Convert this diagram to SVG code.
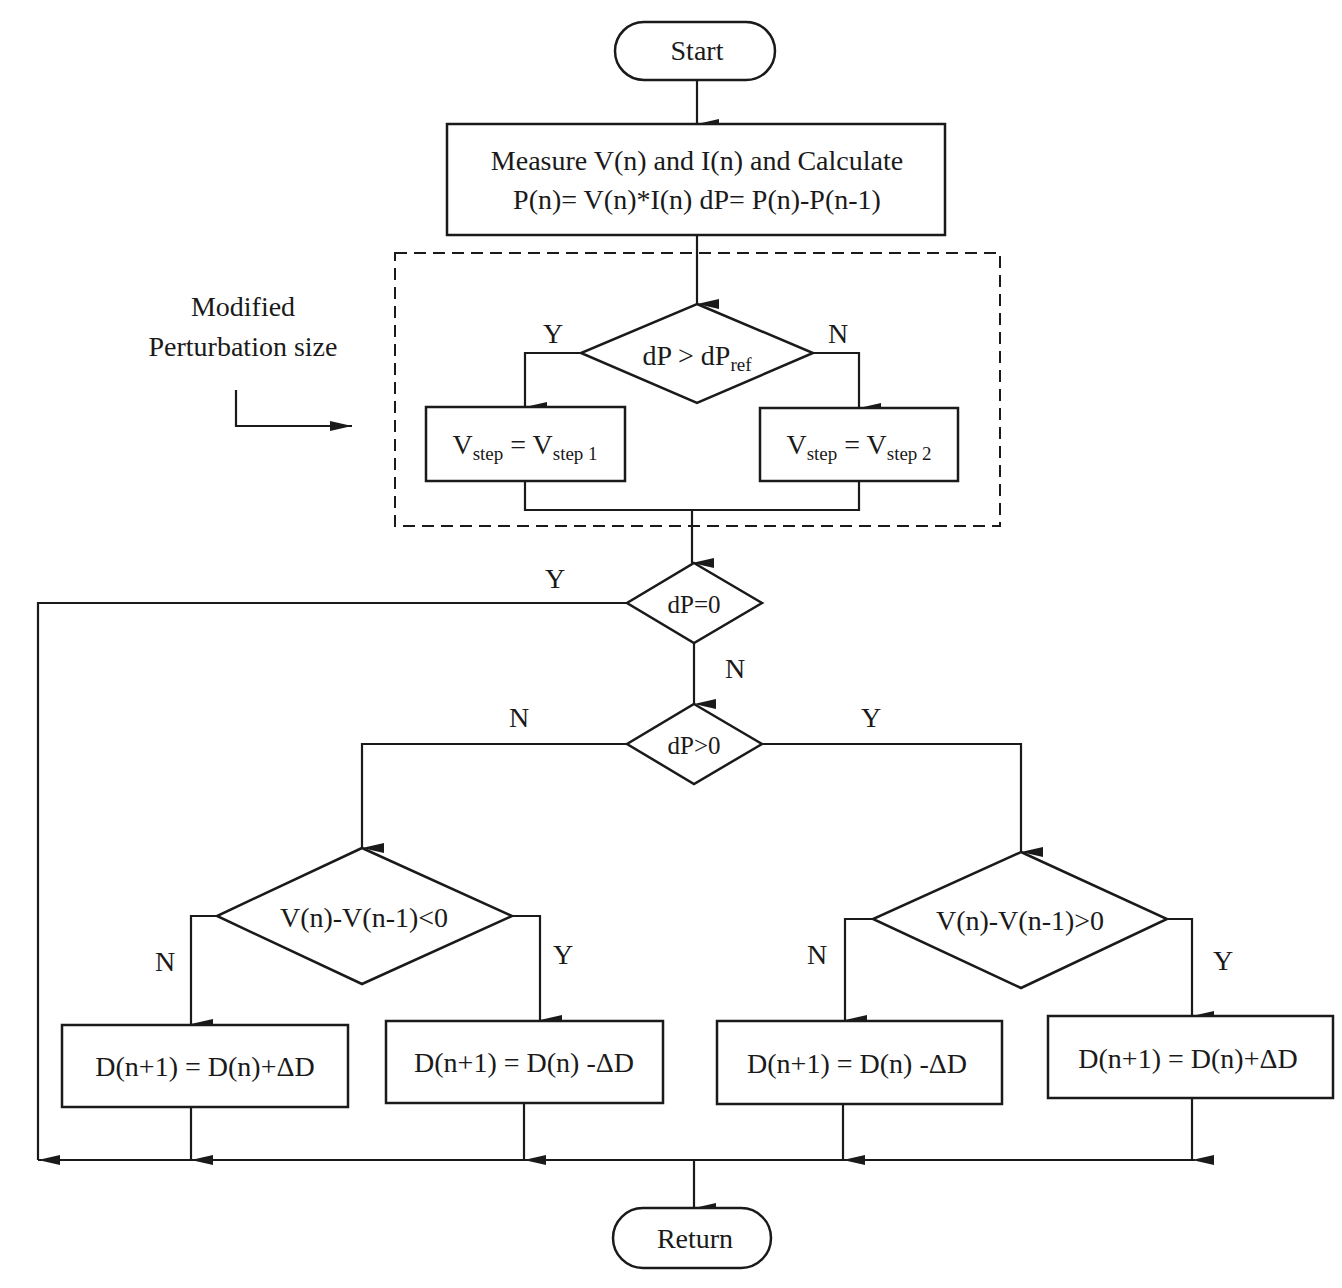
<svg xmlns="http://www.w3.org/2000/svg" width="1342" height="1288" viewBox="0 0 1342 1288">
<style>
.s{fill:#fff;stroke:#1a1a1a;stroke-width:2.5}
.c{fill:none;stroke:#1a1a1a;stroke-width:2.2}
text{font-family:"Liberation Serif","Times New Roman",serif;font-size:28px;fill:#1a1a1a;text-anchor:middle}
.sub{font-size:19px}
</style>
<defs>
<marker id="a" markerWidth="10" markerHeight="22" refX="5" refY="22" orient="auto-start-reverse" markerUnits="userSpaceOnUse" viewBox="0 0 10 22"><path d="M0,0 L10,0 L5,22 Z" fill="#1a1a1a" transform="rotate(0)"/></marker>
<marker id="h" markerWidth="22" markerHeight="10" refX="22" refY="5" orient="0" markerUnits="userSpaceOnUse" viewBox="0 0 22 10"><path d="M0,0 L22,5 L0,10 Z" fill="#1a1a1a"/></marker>
</defs>
<g id="connectors">
<path class="c" d="M697,80V124" marker-end="url(#a)"/>
<path class="c" d="M697,235V304" marker-end="url(#a)"/>
<path class="c" d="M581,353H525V407" marker-end="url(#a)"/>
<path class="c" d="M813,353H859V408" marker-end="url(#a)"/>
<path class="c" d="M525,481V510H859V481"/>
<path class="c" d="M692,510V563" marker-end="url(#a)"/>
<path class="c" d="M627,603H38V1160" marker-end="url(#a)"/>
<path class="c" d="M694,643V704" marker-end="url(#a)"/>
<path class="c" d="M627,744H362V848" marker-end="url(#a)"/>
<path class="c" d="M762,744H1021V852" marker-end="url(#a)"/>
<path class="c" d="M217,916H191V1024" marker-end="url(#a)"/>
<path class="c" d="M512,916H540V1020" marker-end="url(#a)"/>
<path class="c" d="M873,919H845V1020" marker-end="url(#a)"/>
<path class="c" d="M1167,919H1192V1016" marker-end="url(#a)"/>
<path class="c" d="M191,1107V1160" marker-end="url(#a)"/>
<path class="c" d="M524,1103V1160" marker-end="url(#a)"/>
<path class="c" d="M843,1104V1160" marker-end="url(#a)"/>
<path class="c" d="M1192,1098V1160" marker-end="url(#a)"/>
<path class="c" d="M38,1160H1195"/>
<path class="c" d="M694,1160V1208" marker-end="url(#a)"/>
<path class="c" d="M236,390V426H352" marker-end="url(#h)"/>
<text x="553" y="343">Y</text><text x="838" y="343">N</text>
<text x="555" y="588">Y</text><text x="735" y="678">N</text>
<text x="519" y="727">N</text><text x="871" y="727">Y</text>
<text x="165" y="971">N</text><text x="563" y="964">Y</text>
<text x="817" y="964">N</text><text x="1223" y="970">Y</text>
</g>
<rect id="dashed" x="395" y="253" width="605" height="273" fill="none" stroke="#1a1a1a" stroke-width="2" stroke-dasharray="12,7"/>
<g id="label"><text x="243" y="316">Modified</text><text x="243" y="356">Perturbation size</text></g>
<g id="start"><rect class="s" x="615" y="22" width="160" height="58" rx="29"/><text x="697" y="60">Start</text></g>
<g id="measure"><rect class="s" x="447" y="124" width="498" height="111"/><text x="697" y="170">Measure V(n) and I(n) and Calculate</text><text x="697" y="209">P(n)= V(n)*I(n) dP= P(n)-P(n-1)</text></g>
<g id="d1"><path class="s" d="M697,304L813,353L697,403L581,353Z"/><text x="697" y="365">dP &gt; dP<tspan class="sub" dy="6">ref</tspan></text></g>
<g id="v1"><rect class="s" x="426" y="407" width="199" height="74"/><text x="525" y="454">V<tspan class="sub" dy="6">step</tspan><tspan dy="-6"> = V</tspan><tspan class="sub" dy="6">step 1</tspan></text></g>
<g id="v2"><rect class="s" x="760" y="408" width="198" height="73"/><text x="859" y="454">V<tspan class="sub" dy="6">step</tspan><tspan dy="-6"> = V</tspan><tspan class="sub" dy="6">step 2</tspan></text></g>
<g id="d2"><path class="s" d="M694,563L762,603L694,643L627,603Z"/><text x="694" y="613" style="font-size:25px">dP=0</text></g>
<g id="d3"><path class="s" d="M694,704L762,744L694,784L627,744Z"/><text x="694" y="754" style="font-size:25px">dP&gt;0</text></g>
<g id="d4"><path class="s" d="M362,848L512,916L362,984L217,916Z"/><text x="364" y="927">V(n)-V(n-1)&lt;0</text></g>
<g id="d5"><path class="s" d="M1021,852L1167,919L1021,988L873,919Z"/><text x="1020" y="930">V(n)-V(n-1)&gt;0</text></g>
<g id="b1"><rect class="s" x="62" y="1025" width="286" height="82"/><text x="205" y="1076">D(n+1) = D(n)+ΔD</text></g>
<g id="b2"><rect class="s" x="386" y="1021" width="277" height="82"/><text x="524" y="1072">D(n+1) = D(n) -ΔD</text></g>
<g id="b3"><rect class="s" x="717" y="1021" width="285" height="83"/><text x="857" y="1073">D(n+1) = D(n) -ΔD</text></g>
<g id="b4"><rect class="s" x="1048" y="1016" width="285" height="82"/><text x="1188" y="1068">D(n+1) = D(n)+ΔD</text></g>
<g id="return"><rect class="s" x="613" y="1208" width="158" height="60" rx="30"/><text x="695" y="1248">Return</text></g>
</svg>
